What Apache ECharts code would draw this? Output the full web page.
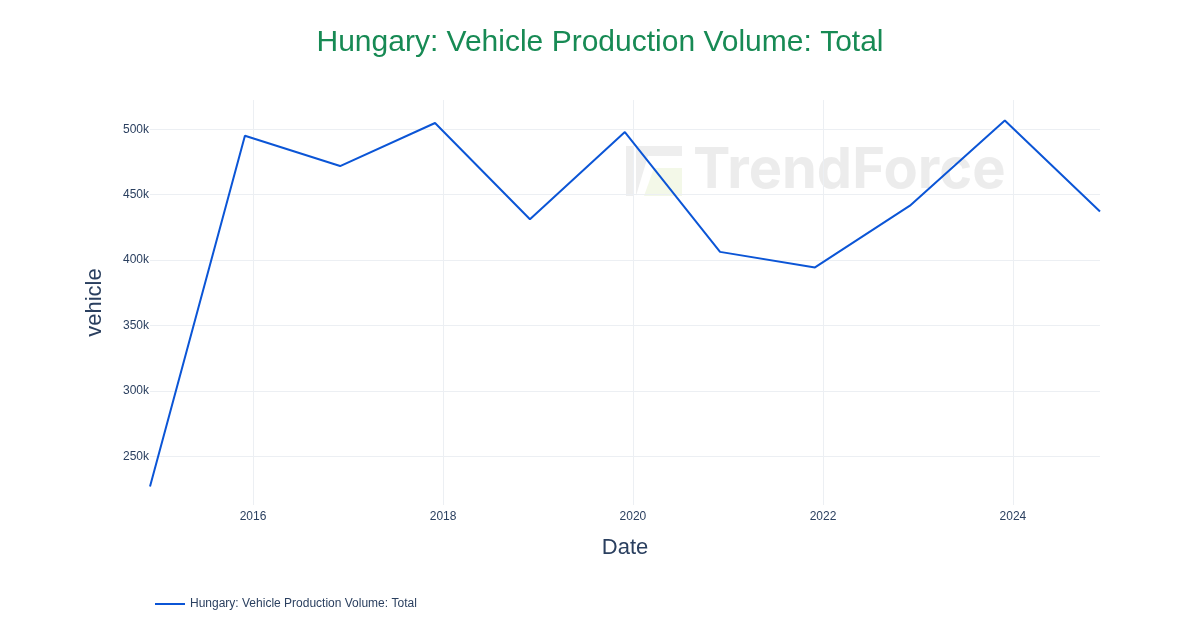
<!DOCTYPE html>
<html>
<head>
<meta charset="utf-8">
<script src="https://cdn.jsdelivr.net/npm/echarts@6/dist/echarts.min.js"></script>
<style>html,body{margin:0;padding:0;background:#fff}#c{width:1200px;height:630px}</style>
</head>
<body>
<div id="c"></div>
<script>
const dates = ['2014-12-01','2015-12-01','2016-12-01','2017-12-01','2018-12-01','2019-12-01','2020-12-01','2021-12-01','2022-12-01','2023-12-01','2024-12-01'];
const values = [227000, 495100, 471900, 504800, 431200, 497900, 406300, 394400, 441600, 506800, 437200];
const seriesName = 'Hungary: Vehicle Production Volume: Total';
const titleText = 'Hungary: Vehicle Production Volume: Total';
const xTitle = 'Date';
const yTitle = 'vehicle';

const font = '"Liberation Sans", Arial, sans-serif';
const textColor = '#2a3f5f';
const gridColor = '#eceff3';

const chart = echarts.init(document.getElementById('c'), null, {renderer: 'canvas'});
chart.setOption({
  backgroundColor: '#fff',
  animation: false,
  title: {
    text: titleText, left: 'center', top: 23,
    textStyle: {color: '#178a54', fontFamily: font, fontSize: 30, fontWeight: 'normal'}
  },
  graphic: [
    {type: 'group', left: 626, top: 146, silent: true, z: 0, children: [
      {type: 'rect', shape: {x: 0, y: 0, width: 8, height: 50}, style: {fill: 'rgba(200,200,200,0.3)'}},
      {type: 'polygon', shape: {points: [[10,0],[56,0],[56,10],[22,10],[10,50]]}, style: {fill: 'rgba(200,200,200,0.3)'}},
      {type: 'polygon', shape: {points: [[28,22],[56,22],[56,50],[18,50]]}, style: {fill: 'rgba(200,225,150,0.22)'}}
    ]},
    {type: 'text', left: 693, top: 143, silent: true, z: 0,
      style: {text: 'TrendForce', fill: 'rgba(200,200,200,0.34)', font: 'bold 56px Inter, Lato, "Noto Sans", sans-serif'}}
  ],
  grid: {left: 150, right: 100, top: 100, bottom: 125, containLabel: false},
  legend: {
    left: 150, top: 593, itemWidth: 30, itemHeight: 2, itemGap: 10,
    icon: 'rect',
    data: [seriesName],
    textStyle: {color: textColor, fontFamily: font, fontSize: 12}
  },
  xAxis: {
    type: 'time',
    min: new Date(dates[0]).getTime(),
    max: new Date(dates[dates.length - 1]).getTime(),
    splitNumber: 5,
    name: xTitle, nameLocation: 'middle', nameGap: 32,
    nameTextStyle: {color: textColor, fontFamily: font, fontSize: 22},
    axisLine: {show: false}, axisTick: {show: false},
    axisLabel: {
      color: textColor, fontFamily: font, fontSize: 12, margin: 6,
      showMinLabel: false, showMaxLabel: false,
      formatter: function (v) { return String(new Date(v).getFullYear()); }
    },
    splitLine: {show: true, showMinLine: false, showMaxLine: false, lineStyle: {color: gridColor, width: 1}}
  },
  yAxis: {
    type: 'value',
    min: 212800, max: 522400, splitNumber: 6,
    name: yTitle, nameLocation: 'middle', nameGap: 44, nameRotate: 90,
    nameTextStyle: {color: textColor, fontFamily: font, fontSize: 22},
    axisLine: {show: false}, axisTick: {show: false},
    axisLabel: {
      color: textColor, fontFamily: font, fontSize: 12, margin: 1,
      showMinLabel: false, showMaxLabel: false,
      formatter: function (v) { return (v / 1000) + 'k'; }
    },
    splitLine: {show: true, showMinLine: false, showMaxLine: false, lineStyle: {color: gridColor, width: 1}}
  },
  series: [{
    name: seriesName, type: 'line',
    data: dates.map((d, i) => [new Date(d).getTime(), values[i]]),
    showSymbol: false, symbol: 'none',
    lineStyle: {color: '#0b55d6', width: 2},
    itemStyle: {color: '#0b55d6'},
    z: 5
  }]
});
</script>
</body>
</html>
